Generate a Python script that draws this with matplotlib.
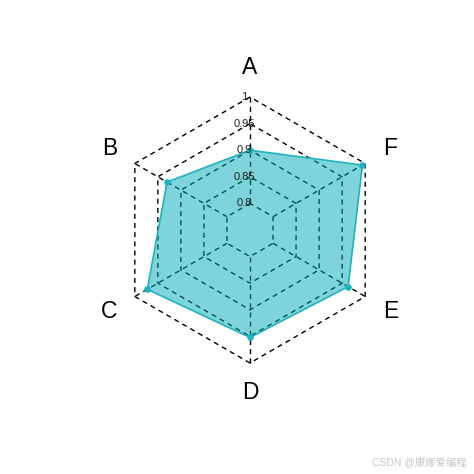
import numpy as np
import matplotlib
matplotlib.use("Agg")
from matplotlib import pyplot as plt

# Daten
labels = ["A", "B", "C", "D", "E", "F"]
values = [0.90, 0.93, 0.973, 0.952, 0.963, 0.994]
levels = [0.8, 0.85, 0.9, 0.95, 1.0]
level_labels = ["0.8", "0.85", "0.9", "0.95", "1"]
vmin, vmax = 0.8, 1.0
seg = 4

plt.rcParams['font.family'] = ['Liberation Sans', 'Noto Sans CJK SC', 'DejaVu Sans']

def radius(v):
    # wie fmsb: Mitte bleibt frei
    return 1.0 / (seg + 1) + (v - vmin) / (vmax - vmin) * seg / (seg + 1)

n = len(labels)
ang = np.deg2rad(90 + 360.0 / n * np.arange(n))
cx, cy = np.cos(ang), np.sin(ang)

fig = plt.figure(figsize=(4.74, 4.74), dpi=100)
ax = fig.add_axes([0, 0, 1, 1])
scale = 133.0
ax.set_xlim(-250 / scale, (474 - 250) / scale)
ax.set_ylim(-(474 - 230) / scale, 230 / scale)
ax.set_aspect('equal')
ax.axis('off')

dash = (0, (3.6, 3.0))
# Gitter-Sechsecke
for lv in levels:
    r = radius(lv)
    ax.plot(np.append(cx, cx[0]) * r, np.append(cy, cy[0]) * r,
            color='black', lw=1.0, linestyle=dash, zorder=1)
# Achsen
r0, r1 = radius(levels[0]), radius(levels[-1])
for i in range(n):
    ax.plot([cx[i] * r0, cx[i] * r1], [cy[i] * r0, cy[i] * r1],
            color='black', lw=1.0, linestyle=dash, zorder=1)

# Datenpolygon
rv = np.array([radius(v) for v in values])
px, py = cx * rv, cy * rv
ax.fill(px, py, color='#00a9b6', alpha=0.5, lw=0, zorder=2)
ax.plot(np.append(px, px[0]), np.append(py, py[0]), color='#1fb3bd', lw=1.2, zorder=3)
ax.scatter(px, py, s=14, color='#1fb3bd', zorder=4)

# Achsenbeschriftung
for lv, lab in zip(levels, level_labels):
    ax.text(-0.045, radius(lv), lab, ha='center', va='center',
            fontsize=8, color='#222222', zorder=5)

# Kategorien
for i in range(n):
    ax.text(cx[i] * 1.22, cy[i] * 1.22, labels[i], ha='center', va='center',
            fontsize=16.5, color='black')

fig.text(0.985, 0.012, "CSDN @康娜爱编程", ha='right', va='bottom',
         fontsize=7.5, color='#c8c8c8')

fig.savefig("out.png", dpi=100)
